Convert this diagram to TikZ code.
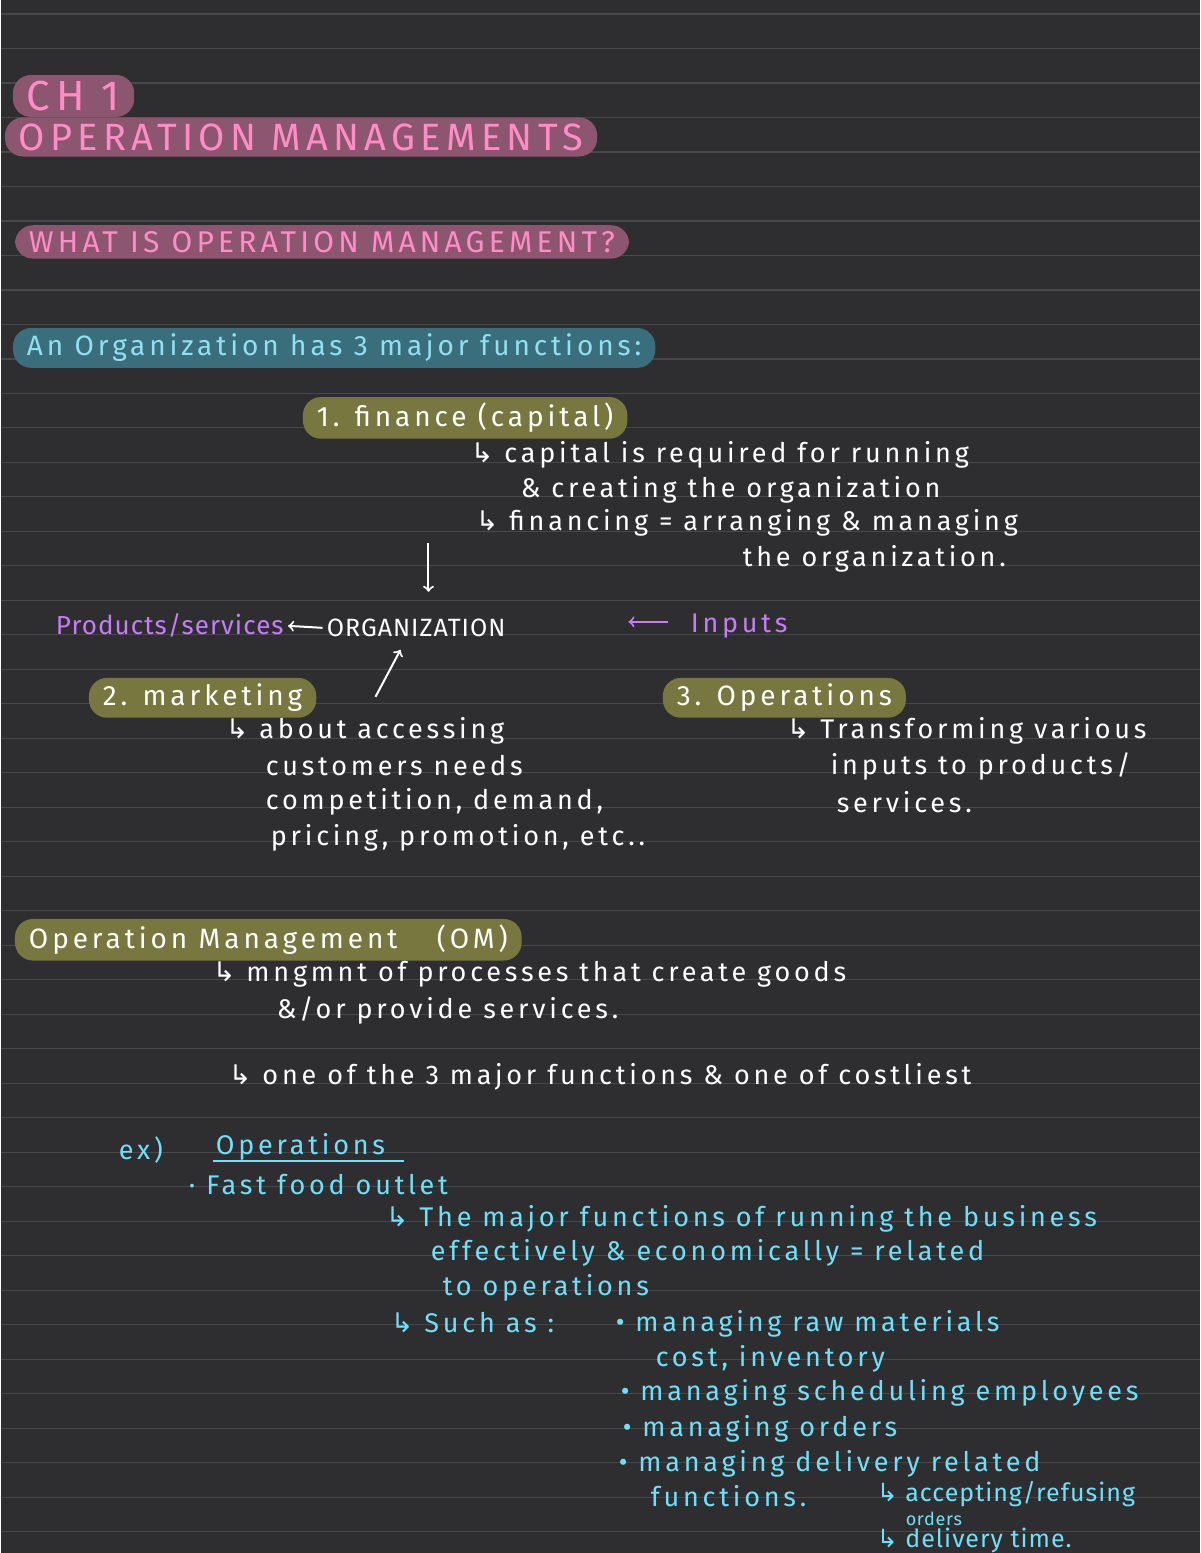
\documentclass[tikz,border=0pt]{standalone}
\usepackage{fontspec}
\setmainfont{Fira Sans}[LetterSpace=14]
\newfontfamily\djv{DejaVu Sans}
\newfontfamily\tight{Fira Sans}[LetterSpace=4]
\newcommand{\hk}{{\djv ↳}}
\definecolor{bg}{HTML}{2E2E30}
\definecolor{rule}{HTML}{48484B}
\definecolor{pinkt}{HTML}{FF8CC6}
\definecolor{pinkh}{HTML}{8C5570}
\definecolor{tealh}{HTML}{3B6E7C}
\definecolor{tealt}{HTML}{8FE0F0}
\definecolor{oliveh}{HTML}{77773F}
\definecolor{purp}{HTML}{C57CF5}
\definecolor{cyant}{HTML}{6FE0FA}
\tikzset{
 txt/.style={anchor=west,inner sep=0pt,text=white,font=\fontsize{13.5}{14}\selectfont},
 ctxt/.style={txt,text=cyant},
 hl/.style={anchor=west,rounded corners=9pt,inner xsep=7pt,inner ysep=3pt},
 pinkhl/.style={hl,fill=pinkh,text=pinkt},
 tealhl/.style={hl,fill=tealh,text=tealt,font=\fontsize{14}{15}\selectfont},
 olivehl/.style={hl,fill=oliveh,text=white,font=\fontsize{14}{15}\selectfont},
 arr/.style={->,white,line width=1pt}
}
\begin{document}
\begin{tikzpicture}[x=0.5pt,y=-0.5pt]
\fill[bg] (0,0) rectangle (1200,1553);
\foreach \i in {0,...,44}{\draw[rule,line width=0.6pt] (0,{14+34.5*\i}) -- (1200,{14+34.5*\i});}
\node[pinkhl,font=\fontsize{21}{21}\selectfont] (ch) at (12,96) {CH 1};
\node[pinkhl,font=\fontsize{19}{20}\selectfont] (om) at (4,137) {OPERATION MANAGEMENTS};
\node[pinkhl,font=\fontsize{15}{16}\selectfont] (what) at (14,242) {WHAT IS OPERATION MANAGEMENT?};
\node[tealhl] (org3) at (12,348) {An Organization has 3 major functions:};
\node[olivehl] (fin) at (302,418) {1. finance (capital)};
\node[txt] (f1) at (470,455) {\hk\ capital is required for running};
\node[txt] (f2) at (520,490) {\& creating the organization};
\node[txt] (f3) at (475,523) {\hk\ financing = arranging \& managing};
\node[txt] (f4) at (742,559) {the organization.};
\node[txt,text=purp,font=\tight\fontsize{13}{14}\selectfont] (prod) at (55,626) {Products/services};
\node[txt,font=\tight\fontsize{12.5}{14}\selectfont] (orgz) at (326,628) {ORGANIZATION};
\node[txt,text=purp] (inp) at (690,626) {Inputs};
\coordinate (inpa) at (668,622);
\draw[arr] ([xshift=-2pt]orgz.west) -- ([xshift=2pt]prod.east);
\draw[arr,purp] (inpa) -- ++(-40,0);
\draw[arr] (428,543) -- (428,592);
\draw[arr] (375,697) -- (400,650);
\node[olivehl] (mkt) at (88,698) {2. marketing};
\node[txt] (m1) at (225,731) {\hk\ about accessing};
\node[txt] (m2) at (265,766) {customers needs};
\node[txt] (m3) at (265,802) {competition, demand,};
\node[txt] (m4) at (270,838) {pricing, promotion, etc..};
\node[olivehl] (ops) at (662,698) {3. Operations};
\node[txt] (o1) at (786,731) {\hk\ Transforming various};
\node[txt] (o2) at (830,767) {inputs to products/};
\node[txt] (o3) at (836,802) {services.};
\node[olivehl] (omh) at (14,940) {Operation Management \quad (OM)};
\node[txt] (om1) at (212,975) {\hk\ mngmnt of processes that create goods};
\node[txt] (om2) at (276,1011) {\&/or provide services.};
\node[txt] (om3) at (228,1077) {\hk\ one of the 3 major functions \& one of costliest};
\node[ctxt] (ex) at (118,1150) {ex)};
\node[ctxt] (exo) at (215,1147) {Operations};
\draw[cyant,line width=0.8pt] (212,1161) -- (403,1161);
\node[ctxt] (e1) at (188,1185) {· Fast food outlet};
\node[ctxt] (e2) at (385,1219) {\hk\ The major functions of running the business};
\node[ctxt] (e3) at (430,1253) {effectively \& economically = related};
\node[ctxt] (e4) at (442,1288) {to operations};
\node[ctxt] (e5) at (390,1323) {\hk\ Such as :};
\node[ctxt] (e6) at (615,1324) {• managing raw materials};
\node[ctxt] (e7) at (655,1359) {cost, inventory};
\node[ctxt] (e8) at (620,1393) {• managing scheduling employees};
\node[ctxt] (e9) at (622,1429) {• managing orders};
\node[ctxt] (e10) at (618,1464) {• managing delivery related};
\node[ctxt] (e11) at (650,1497) {functions.};
\node[ctxt,font=\tight\fontsize{12.5}{14}\selectfont] (e12) at (876,1494) {\hk\ accepting/refusing};
\node[ctxt,font=\tight\fontsize{9}{9}\selectfont] (e13) at (905,1519) {orders};
\node[ctxt,font=\tight\fontsize{12.5}{14}\selectfont] (e14) at (876,1541) {\hk\ delivery time.};
\end{tikzpicture}
\end{document}
